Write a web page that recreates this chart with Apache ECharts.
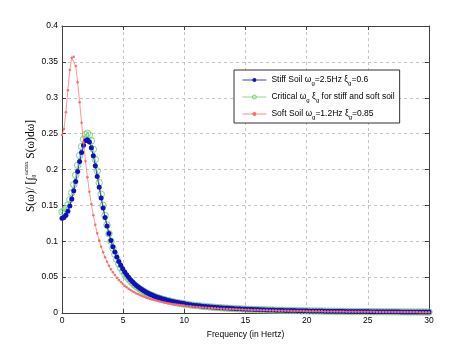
<!DOCTYPE html>
<html><head><meta charset="utf-8">
<script src="https://cdn.jsdelivr.net/npm/echarts@6/dist/echarts.min.js"></script>
<style>html,body{margin:0;padding:0;background:#fff}#c{width:474px;height:353px}</style>
</head><body><div id="c"></div>
<script>
// Frequency samples (Hz)
const freq = [0,0.16,0.32,0.48,0.64,0.8,0.96,1.12,1.28,1.44,1.6,1.76,1.92,2.08,2.24,2.4,2.56,2.72,2.88,3.04,3.2,3.36,3.52,3.68,3.84,4,4.16,4.32,4.48,4.64,4.8,4.96,5.12,5.28,5.44,5.6,5.76,5.92,6.08,6.24,6.4,6.56,6.72,6.88,7.04,7.2,7.36,7.52,7.68,7.84,8,8.16,8.32,8.48,8.64,8.8,8.96,9.12,9.28,9.44,9.6,9.76,9.92,
10,10.25,10.5,10.75,11,11.25,11.5,11.75,12,12.25,12.5,12.75,13,13.25,13.5,13.75,14,14.25,14.5,14.75,15,15.25,15.5,15.75,16,16.25,16.5,16.75,17,17.25,17.5,17.75,18,18.25,18.5,18.75,19,19.25,19.5,19.75,20,20.25,20.5,20.75,21,21.25,21.5,21.75,22,22.25,22.5,22.75,23,23.25,23.5,23.75,24,24.25,24.5,24.75,25,25.25,25.5,25.75,26,26.25,26.5,26.75,27,27.25,27.5,27.75,28,28.25,28.5,28.75,29,29.25,29.5,29.75,30];

// Stiff soil (blue dots)
const stiffSoil = [0.1320,0.1331,0.1363,0.1417,0.1493,0.1589,0.1704,0.1834,0.1972,0.2110,0.2236,0.2337,0.2399,0.2415,0.2382,0.2304,0.2191,0.2054,0.1904,0.1751,0.1603,0.1462,0.1332,0.1214,0.1107,0.1011,0.0925,0.0849,0.0780,0.0719,0.0665,0.0616,0.0572,0.0533,0.0497,0.0465,0.0435,0.0409,0.0385,0.0362,0.0342,0.0323,0.0306,0.0290,0.0276,0.0262,0.0250,0.0238,0.0227,0.0217,0.0208,0.0199,0.0190,0.0183,0.0175,0.0169,0.0162,0.0156,0.0150,0.0145,0.0140,0.0135,0.0130,
0.01279,0.01214,0.01153,0.01097,0.01044,0.00996,0.00951,0.00909,0.00869,0.00833,0.00798,0.00766,0.00736,0.00707,0.00680,0.00654,0.00630,0.00608,0.00586,0.00566,0.00546,0.00528,0.00511,0.00494,0.00478,0.00463,0.00449,0.00435,0.00422,0.00410,0.00398,0.00386,0.00376,0.00365,0.00355,0.00345,0.00336,0.00327,0.00319,0.00311,0.00303,0.00295,0.00288,0.00281,0.00274,0.00268,0.00261,0.00255,0.00249,0.00244,0.00238,0.00233,0.00228,0.00223,0.00218,0.00214,0.00209,0.00205,0.00201,0.00196,0.00192,0.00189,0.00185,0.00181,0.00178,0.00174,0.00171,0.00168,0.00165,0.00162,0.00159,0.00156,0.00153,0.00150,0.00148,0.00145,0.00143,0.00140,0.00138,0.00135,0.00133];

// Critical (green circles)
const criticalSoil = [0.1410,0.1420,0.1452,0.1505,0.1580,0.1676,0.1790,0.1920,0.2058,0.2195,0.2320,0.2420,0.2486,0.2505,0.2478,0.2400,0.2282,0.2140,0.1980,0.1815,0.1655,0.1500,0.1358,0.1226,0.1106,0.0999,0.0904,0.0821,0.0748,0.0684,0.0628,0.0584,0.0543,0.0507,0.0474,0.0444,0.0417,0.0392,0.0369,0.0349,0.0330,0.0313,0.0296,0.0281,0.0268,0.0255,0.0243,0.0232,0.0221,0.0212,0.0202,0.0194,0.0186,0.0179,0.0172,0.0165,0.0159,0.0153,0.0147,0.0142,0.0137,0.0132,0.0128,
0.01259,0.01195,0.01136,0.01081,0.01030,0.00983,0.00939,0.00898,0.00859,0.00823,0.00789,0.00758,0.00728,0.00700,0.00673,0.00648,0.00624,0.00602,0.00581,0.00561,0.00542,0.00524,0.00507,0.00490,0.00475,0.00460,0.00446,0.00432,0.00419,0.00407,0.00395,0.00384,0.00373,0.00363,0.00353,0.00344,0.00334,0.00326,0.00317,0.00309,0.00301,0.00294,0.00287,0.00280,0.00273,0.00266,0.00260,0.00254,0.00248,0.00243,0.00237,0.00232,0.00227,0.00222,0.00217,0.00213,0.00208,0.00204,0.00200,0.00196,0.00192,0.00188,0.00184,0.00181,0.00177,0.00174,0.00171,0.00167,0.00164,0.00161,0.00158,0.00155,0.00153,0.00150,0.00147,0.00145,0.00142,0.00140,0.00137,0.00135,0.00133];

// Soft soil (red)
const softSoil = [0.2480,0.2566,0.2798,0.3105,0.3387,0.3556,0.3571,0.3442,0.3216,0.2939,0.2651,0.2373,0.2118,0.1891,0.1690,0.1515,0.1362,0.1229,0.1113,0.1012,0.0923,0.0845,0.0776,0.0714,0.0660,0.0611,0.0568,0.0528,0.0493,0.0461,0.0432,0.0406,0.0381,0.0359,0.0339,0.0321,0.0303,0.0288,0.0273,0.0260,0.0247,0.0236,0.0225,0.0214,0.0205,0.0196,0.0188,0.0180,0.0173,0.0166,0.0159,0.0153,0.0147,0.0142,0.0137,0.0132,0.0127,0.0123,0.0119,0.0115,0.0111,0.0107,0.0104,
0.01024,0.00975,0.00929,0.00887,0.00847,0.00810,0.00776,0.00743,0.00713,0.00684,0.00657,0.00632,0.00608,0.00585,0.00564,0.00544,0.00524,0.00506,0.00489,0.00473,0.00457,0.00442,0.00428,0.00415,0.00402,0.00390,0.00378,0.00367,0.00356,0.00346,0.00336,0.00327,0.00318,0.00309,0.00301,0.00293,0.00285,0.00278,0.00271,0.00264,0.00258,0.00251,0.00245,0.00239,0.00234,0.00228,0.00223,0.00218,0.00213,0.00208,0.00204,0.00199,0.00195,0.00191,0.00187,0.00183,0.00179,0.00175,0.00172,0.00168,0.00165,0.00162,0.00159,0.00155,0.00153,0.00150,0.00147,0.00144,0.00141,0.00139,0.00136,0.00134,0.00132,0.00129,0.00127,0.00125,0.00123,0.00121,0.00118,0.00117,0.00115];

const xTicks = [0,5,10,15,20,25,30];
const yTicks = [0,0.05,0.1,0.15,0.2,0.25,0.3,0.35,0.4];
const seriesNames = ['Stiff Soil ωg=2.5Hz ξg=0.6', 'Critical ωg ξg for stiff and soft soil', 'Soft Soil ωg=1.2Hz ξg=0.85'];
const legendLabels = ['Stiff Soil ω{s|g}=2.5Hz ξ{s|g}=0.6', 'Critical ω{s|g} ξ{s|g} for stiff and soft soil', 'Soft Soil ω{s|g}=1.2Hz ξ{s|g}=0.85'];

const pairs = ys => freq.map((f, i) => [f, ys[i]]);
const SANS = '"Liberation Sans", Arial, Helvetica, sans-serif';
const SERIF = '"Liberation Serif", "Times New Roman", serif';
const axisColor = '#404040';
const BLUE = '#1010c0', GREEN = '#6fd06f', RED = '#ff6a6a';
const gridLine = { show: true, lineStyle: { color: '#c4c4c4', width: 1, type: [3, 3] } };

const chart = echarts.init(document.getElementById('c'), null, { renderer: 'canvas' });
chart.setOption({
  animation: false,
  backgroundColor: '#fff',
  grid: { left: 62, right: 45, top: 26, bottom: 40 },
  legend: {
    left: 234, top: 70, orient: 'vertical',
    data: [
      { name: seriesNames[0], itemStyle: { color: BLUE } },
      { name: seriesNames[1], itemStyle: { color: 'rgba(255,255,255,0)', borderColor: GREEN, borderWidth: 1 } },
      { name: seriesNames[2], itemStyle: { color: RED } }
    ],
    backgroundColor: '#fff', borderColor: '#303030', borderWidth: 1,
    padding: [4, 5, 3, 8], itemGap: 5, itemWidth: 24, itemHeight: 5,
    lineStyle: { width: 0.8 },
    selectedMode: false,
    formatter: name => legendLabels[seriesNames.indexOf(name)],
    textStyle: {
      fontFamily: SANS, fontSize: 8.5, color: '#000', lineHeight: 12,
      rich: { s: { fontFamily: SANS, fontSize: 6, color: '#000', verticalAlign: 'bottom', lineHeight: 12 } }
    }
  },
  xAxis: [{
    type: 'value', min: xTicks[0], max: xTicks[xTicks.length - 1], interval: 5,
    name: 'Frequency (in Hertz)', nameLocation: 'middle', nameGap: 14,
    nameTextStyle: { fontFamily: SANS, fontSize: 8.5, color: '#000' },
    axisLine: { show: true, onZero: false, lineStyle: { color: axisColor } },
    axisTick: { show: true, inside: true, length: 4, lineStyle: { color: axisColor } },
    axisLabel: { fontFamily: SANS, fontSize: 8.5, color: '#000', margin: 3 },
    splitLine: gridLine
  }, {
    type: 'value', position: 'top', min: xTicks[0], max: xTicks[xTicks.length - 1], interval: 5,
    axisLine: { show: true, onZero: false, lineStyle: { color: axisColor } },
    axisTick: { show: true, inside: true, length: 4, lineStyle: { color: axisColor } },
    axisLabel: { show: false }, splitLine: { show: false }
  }],
  yAxis: [{
    type: 'value', min: yTicks[0], max: yTicks[yTicks.length - 1], interval: 0.05,
    axisLine: { show: true, onZero: false, lineStyle: { color: axisColor } },
    axisTick: { show: true, inside: true, length: 4, lineStyle: { color: axisColor } },
    axisLabel: { fontFamily: SANS, fontSize: 8.5, color: '#000', margin: 4 },
    splitLine: gridLine
  }, {
    type: 'value', position: 'right', min: yTicks[0], max: yTicks[yTicks.length - 1], interval: 0.05,
    axisLine: { show: true, onZero: false, lineStyle: { color: axisColor } },
    axisTick: { show: true, inside: true, length: 4, lineStyle: { color: axisColor } },
    axisLabel: { show: false }, splitLine: { show: false }
  }],
  series: [
    {
      name: seriesNames[1], type: 'line', data: pairs(criticalSoil), z: 2,
      symbol: 'circle', symbolSize: 6.5, showAllSymbol: true,
      itemStyle: { color: 'rgba(255,255,255,0)', borderColor: GREEN, borderWidth: 0.9 },
      lineStyle: { color: GREEN, width: 0.8 }
    },
    {
      name: seriesNames[0], type: 'line', data: pairs(stiffSoil), z: 3,
      symbol: 'circle', symbolSize: 5, showAllSymbol: true,
      itemStyle: { color: BLUE },
      lineStyle: { color: BLUE, width: 0.8 }
    },
    {
      name: seriesNames[2], type: 'line', data: pairs(softSoil), z: 4,
      symbol: 'circle', symbolSize: 2.5, showAllSymbol: true,
      itemStyle: { color: RED },
      lineStyle: { color: RED, width: 0.7 }
    }
  ],
  graphic: [{
    type: 'text', x: 31, y: 166, rotation: Math.PI / 2,
    style: {
      text: '{t|S(ω)/ [∫}{sb|0}{sp|ωmax}{t| S(ω)dω]}',
      align: 'center', verticalAlign: 'middle',
      rich: {
        t: { fontFamily: SERIF, fontSize: 11.5, fill: '#000', lineHeight: 14 },
        sb: { fontFamily: SERIF, fontSize: 5.5, fill: '#000', verticalAlign: 'bottom', lineHeight: 14 },
        sp: { fontFamily: SERIF, fontSize: 5.5, fill: '#000', verticalAlign: 'top', lineHeight: 14 }
      }
    }
  }]
});
</script>
</body></html>
